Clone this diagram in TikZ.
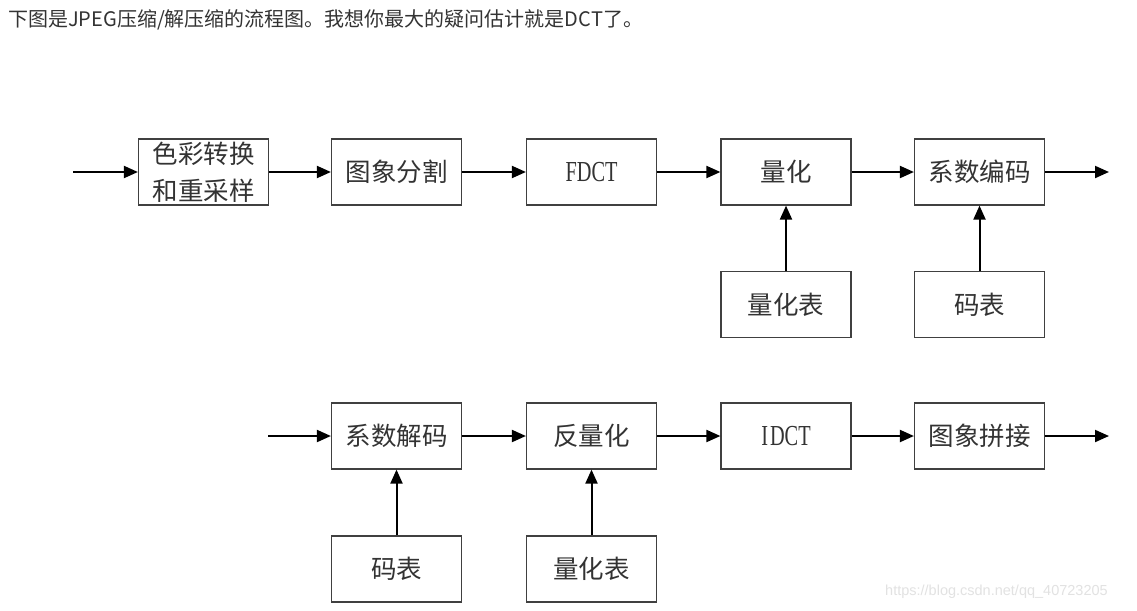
\documentclass[tikz,border=0pt]{standalone}
\usepackage{fontspec}
\setmainfont{Liberation Serif}
\newfontfamily\cjk{Noto Sans CJK SC}
\newfontfamily\narrowserif[FakeStretch=0.7]{Liberation Serif}
\newfontfamily\wmfont{Liberation Sans}
\usetikzlibrary{arrows.meta}
\definecolor{txt}{HTML}{333333}
\definecolor{boxline}{HTML}{404040}
\definecolor{wmark}{HTML}{E2E2E2}
\tikzset{
  stagebox/.style={draw=boxline, line width=1.2pt, minimum width=130pt, minimum height=66pt,
    inner sep=0pt, align=center, text=txt, font=\cjk\fontsize{25.5}{37}\selectfont},
  latinbox/.style={stagebox, font=\narrowserif\fontsize{29}{32}\selectfont},
  flow/.style={line width=2pt, -{Triangle[length=14pt,width=12pt]}}
}
\begin{document}
\begin{tikzpicture}[x=1pt,y=-1pt]
\useasboundingbox[fill=white] (0,0) rectangle (1137,610);
\node[anchor=west, inner sep=0pt, text=txt, font=\cjk\fontsize{20}{22}\selectfont] (title) at (8,20) {下图是JPEG压缩/解压缩的流程图。我想你最大的疑问估计就是DCT了。};
% row 1
\node[stagebox] (a1) at (203.5,172) {色彩转换\\和重采样};
\node[stagebox] (a2) at (396.5,172) {图象分割};
\node[latinbox] (a3) at (591.5,172) {FDCT};
\node[stagebox] (a4) at (786,172) {量化};
\node[stagebox] (a5) at (979.5,172) {系数编码};
\node[stagebox] (t4) at (786,304.5) {量化表};
\node[stagebox] (t5) at (979.5,304.5) {码表};
\coordinate (s1) at (73,172);
\coordinate (e1) at (1109,172);
\draw[flow] (s1) -- (a1);
\draw[flow] (a1) -- (a2);
\draw[flow] (a2) -- (a3);
\draw[flow] (a3) -- (a4);
\draw[flow] (a4) -- (a5);
\draw[flow] (a5) -- (e1);
\draw[flow] (t4) -- (a4);
\draw[flow] (t5) -- (a5);
% row 2
\node[stagebox] (b2) at (396.5,436) {系数解码};
\node[stagebox] (b3) at (591.5,436) {反量化};
\node[latinbox] (b4) at (786,436) {I\hspace{2pt}DCT};
\node[stagebox] (b5) at (979.5,436) {图象拼接};
\node[stagebox] (u2) at (396.5,569) {码表};
\node[stagebox] (u3) at (591.5,569) {量化表};
\coordinate (s2) at (268,436);
\coordinate (e2) at (1109,436);
\draw[flow] (s2) -- (b2);
\draw[flow] (b2) -- (b3);
\draw[flow] (b3) -- (b4);
\draw[flow] (b4) -- (b5);
\draw[flow] (b5) -- (e2);
\draw[flow] (u2) -- (b2);
\draw[flow] (u3) -- (b3);
% watermark
\node[anchor=west, inner sep=0pt, text=wmark, font=\wmfont\fontsize{14.5}{16}\selectfont] (wm) at (885,592) {https://blog.csdn.net/qq\_40723205};
\end{tikzpicture}
\end{document}
